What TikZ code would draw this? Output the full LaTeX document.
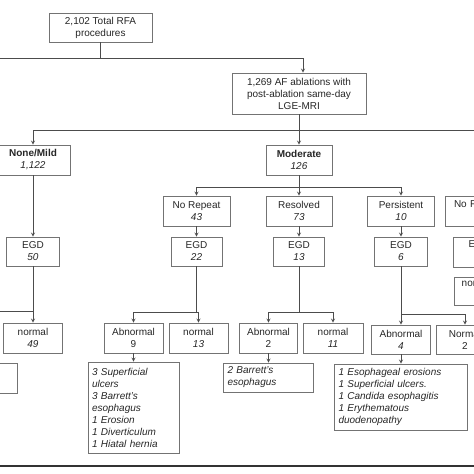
\documentclass[tikz,border=0pt]{standalone}
\usepackage{fontspec}
\setmainfont{Liberation Sans}
\usetikzlibrary{arrows}
\tikzstyle{box} = [rectangle, draw=black!55, line width=0.7pt, minimum height=29pt, inner sep=0pt, align=center, text=black!85, font=\fontsize{10}{12}\selectfont]
\tikzstyle{detail} = [rectangle, draw=black!55, line width=0.7pt, inner sep=0pt, align=left, text=black!85, font=\fontsize{10}{12}\selectfont\itshape]
\tikzstyle{line} = [draw=black!70, line width=0.8pt]
\tikzstyle{arrow} = [line, ->, >=stealth]

\begin{document}
\begin{tikzpicture}[x=1pt, y=-1pt]
    \useasboundingbox (0,0) rectangle (474,474);
    \clip (0,0) rectangle (474,474);

    \node (total) [box, minimum width=103pt] at (100.5,27.5) {2,102 Total RFA\\procedures};
    \node (af) [box, minimum width=134pt, minimum height=41pt] at (299,93.5) {1,269 AF ablations with\\post-ablation same-day\\LGE-MRI};

    \node (nonemild) [box, minimum width=74pt, minimum height=30pt] at (33,160) {\textbf{None/Mild}\\\textit{1,122}};
    \node (moderate) [box, minimum width=66pt, minimum height=30pt] at (299,160) {\textbf{Moderate}\\\textit{126}};

    \node (norepeat) [box, minimum width=67pt, minimum height=30pt] at (196.5,211) {No Repeat\\\textit{43}};
    \node (resolved) [box, minimum width=66pt, minimum height=30pt] at (299,211) {Resolved\\\textit{73}};
    \node (persistent) [box, minimum width=67pt, minimum height=30pt] at (401,211) {Persistent\\\textit{10}};
    \node (nofu) [box, minimum width=70pt, minimum height=30pt, text width=52pt, align=left] at (480,211.5) {No F\\\strut};

    \node (egdA) [box, minimum width=53pt] at (33,251.5) {EGD\\\textit{50}};
    \node (egdB) [box, minimum width=51pt] at (196.5,251.5) {EGD\\\textit{22}};
    \node (egdC) [box, minimum width=51pt] at (299,251.5) {EGD\\\textit{13}};
    \node (egdD) [box, minimum width=53pt] at (401,251.5) {EGD\\\textit{6}};
    \node (egdE) [box, minimum width=53pt, minimum height=30pt] at (479.5,252) {EGD\\\strut};
    \node (normE) [box, minimum width=46pt, minimum height=28pt] at (477,291) {normal\\\strut};

    \node (normA) [box, minimum width=59pt, minimum height=30pt] at (33,338) {normal\\\textit{49}};
    \node (abn9) [box, minimum width=59pt, minimum height=30pt] at (133.5,338) {Abnormal\\9};
    \node (norm13) [box, minimum width=59pt, minimum height=30pt] at (198.5,338) {normal\\\textit{13}};
    \node (abn2) [box, minimum width=58pt, minimum height=30pt] at (268.5,338) {Abnormal\\2};
    \node (norm11) [box, minimum width=60pt, minimum height=30pt] at (333,338) {normal\\\textit{11}};
    \node (abn4) [box, minimum width=59pt] at (401,339.5) {Abnormal\\\textit{4}};
    \node (norm2) [box, minimum width=58pt] at (465,339.5) {Normal\\2};

    \node (detailA) [detail, minimum width=80pt, minimum height=30pt] at (-23,378) {};
    \node (detail9) [detail, minimum width=91pt, minimum height=91pt, text width=83pt] at (133.5,407.5) {3 Superficial\\ulcers\\3 Barrett's\\esophagus\\1 Erosion\\1 Diverticulum\\1 Hiatal hernia};
    \node (detail2) [detail, minimum width=90pt, minimum height=29pt, text width=82pt] at (268.5,377.5) {2 Barrett's\\esophagus};
    \node (detail4) [detail, minimum width=133pt, minimum height=66pt, text width=125pt] at (401,397) {1 Esophageal erosions\\1 Superficial ulcers.\\1 Candida esophagitis\\1 Erythematous\\duodenopathy};

    \coordinate (bus0w) at (-5,58);
    \coordinate (bus0e) at (303,58);
    \coordinate (bus1w) at (33,130);
    \coordinate (bus1e) at (480,130);
    \coordinate (bus2w) at (196.5,187);
    \coordinate (bus2e) at (401,187);
    \coordinate (bus3w) at (-5,311);
    \coordinate (bus4w) at (133.5,312);
    \coordinate (bus4e) at (198.5,312);
    \coordinate (bus5w) at (268.5,312);
    \coordinate (bus5e) at (333,312);
    \coordinate (bus6w) at (401,314);
    \coordinate (bus6e) at (465,314);

    \draw [line] (total) -- (total |- bus0w);
    \draw [line] (bus0w) -- (bus0e);
    \draw [arrow] (bus0e) -- (bus0e |- af.north);

    \draw [line] (bus1w) -- (bus1e);
    \draw [arrow] (af) -- (moderate);
    \draw [arrow] (bus1w) -- (nonemild);

    \draw [line] (bus2w) -- (bus2e);
    \draw [arrow] (moderate) -- (resolved);
    \draw [arrow] (bus2w) -- (norepeat);
    \draw [arrow] (bus2e) -- (persistent);

    \draw [arrow] (nonemild) -- (egdA);
    \draw [arrow] (norepeat) -- (egdB);
    \draw [arrow] (resolved) -- (egdC);
    \draw [arrow] (persistent) -- (egdD);

    \draw [line] (bus3w) -- (bus3w -| egdA);
    \draw [arrow] (egdA) -- (normA);

    \draw [line] (egdB) -- (egdB |- bus4w);
    \draw [line] (bus4w) -- (bus4e);
    \draw [arrow] (bus4w) -- (abn9);
    \draw [arrow] (bus4e) -- (norm13);

    \draw [line] (egdC) -- (egdC |- bus5w);
    \draw [line] (bus5w) -- (bus5e);
    \draw [arrow] (bus5w) -- (abn2);
    \draw [arrow] (bus5e) -- (norm11);

    \draw [arrow] (egdD) -- (abn4);
    \draw [line] (bus6w) -- (bus6e);
    \draw [arrow] (bus6e) -- (norm2);

    \draw [arrow] (abn9) -- (detail9);
    \draw [arrow] (abn2) -- (detail2);
    \draw [arrow] (abn4) -- (detail4);

    \draw [black!80, line width=1.8pt] (-5,466) -- (480,466);
\end{tikzpicture}
\end{document}
